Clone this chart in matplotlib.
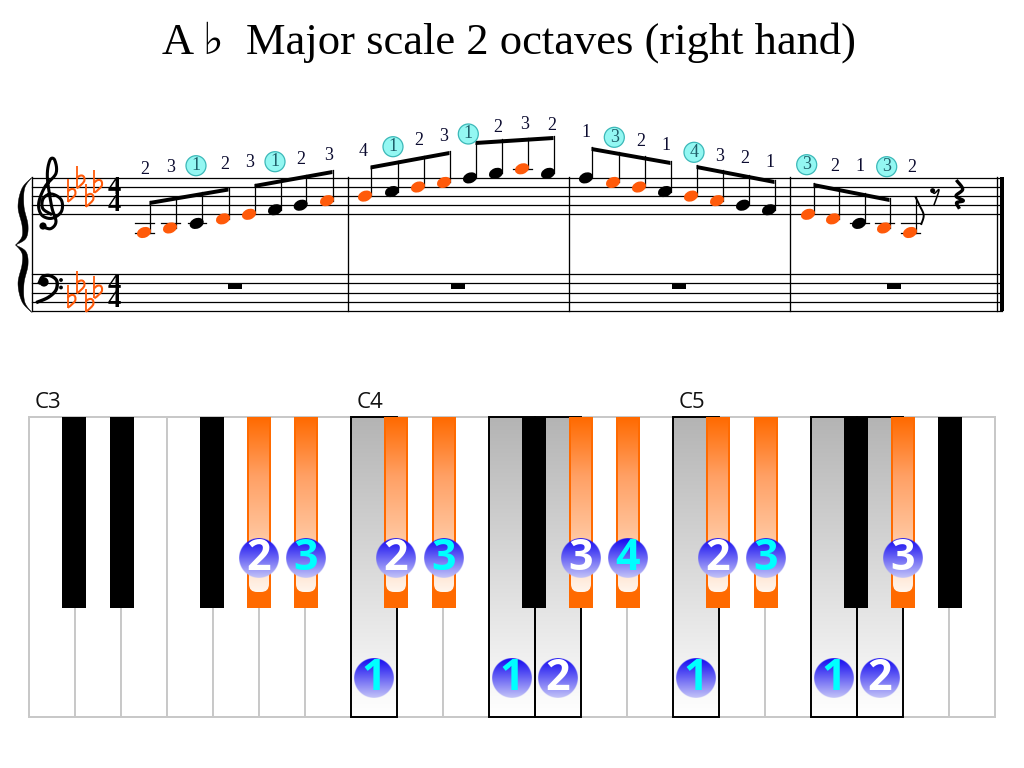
import numpy as np
import matplotlib
matplotlib.use('agg')
import matplotlib.pyplot as plt
from matplotlib.path import Path
from matplotlib.patches import PathPatch, Circle, Rectangle, Ellipse, Polygon, FancyBboxPatch

TITLE = 'A \u266d  Major scale 2 octaves (right hand)'
TIME_SIGNATURE = '4\n4'

# notes: staff step above the bottom treble line, x pixel, finger
NOTE_STEPS = [-4, -3, -2, -1, 0, 1, 2, 3,
              4, 5, 6, 7, 8, 9, 10, 9,
              8, 7, 6, 5, 4, 3, 2, 1,
              0, -1, -2, -3, -4]
NOTE_FLAT = [1, 1, 0, 1, 1, 0, 0, 1,
             1, 0, 1, 1, 0, 0, 1, 0,
             0, 1, 1, 0, 1, 1, 0, 0,
             1, 1, 0, 1, 1]
NOTE_X = [144, 170, 196.7, 223, 249, 275, 300.7, 327,
          365, 392, 418, 444, 470, 496, 522, 548,
          586, 613, 639, 665, 691, 717, 743, 769,
          808, 833, 859, 884, 910]
FINGERS = [2, 3, 1, 2, 3, 1, 2, 3,
           4, 1, 2, 3, 1, 2, 3, 2,
           1, 3, 2, 1, 4, 3, 2, 1,
           3, 2, 1, 3, 2]
FINGER_X = [145, 171, 196, 225, 249.5, 275, 301, 329,
            363.3, 393, 419, 443.7, 468.3, 497.3, 524.7, 551.3,
            586, 614.3, 640.7, 665.7, 694, 719.3, 745, 770,
            806.7, 834.3, 860, 886.7, 912]
FINGER_Y = [169, 167.7, 165.7, 164.3, 162.3, 161.7, 159.3, 156,
            151, 146.7, 140.3, 136.3, 134, 127.3, 124.3, 126,
            132.3, 137.3, 141.3, 146, 152.3, 156.3, 158.7, 162.3,
            164.7, 166.7, 166.7, 166.7, 167.7]
CIRCLED = [2, 5, 9, 12, 17, 20, 24, 27]

# first note, last note, beam top y at both ends
BEAMS = [(0, 3, 201, 187.5), (4, 7, 184, 170), (8, 11, 165.5, 151),
         (12, 15, 141, 136), (16, 19, 147, 161), (20, 23, 165, 180),
         (24, 27, 183, 198)]

BARLINES = [32, 347.5, 568.7, 789.5, 997]
TREBLE_FLATS = [(67.7, 201.7), (76.7, 188.3), (85.7, 206.7), (94.3, 192.7)]
BASS_FLATS = [(67.7, 307.7), (76.7, 293.3), (85.7, 311.7), (94.3, 298.3)]
WHOLE_RESTS = [235, 458, 679, 894]

# piano
WHITE_KEYS = [n + str(o) for o in (3, 4, 5) for n in 'CDEFGAB']
BLACK_KEYS = [n + str(o) for o in (3, 4, 5) for n in ('C#', 'D#', 'F#', 'G#', 'A#')]
BLACK_OFFSET = {'C#': 1, 'D#': 2, 'F#': 4, 'G#': 5, 'A#': 6}
BLACK_SHIFT = {'C#': -1, 'D#': 1, 'F#': -1, 'G#': 0, 'A#': 1}
ORANGE_KEYS = ['G#3', 'A#3', 'C#4', 'D#4', 'G#4', 'A#4', 'C#5', 'D#5', 'G#5']
PRESSED_WHITE = ['C4', 'F4', 'G4', 'C5', 'F5', 'G5']
OCTAVE_LABELS = ['C3', 'C4', 'C5']
KEY_FINGERS = [('G#3', 2, 'w'), ('A#3', 3, 'c'), ('C#4', 2, 'w'), ('D#4', 3, 'c'),
               ('G#4', 3, 'w'), ('A#4', 4, 'c'), ('C#5', 2, 'w'), ('D#5', 3, 'c'),
               ('G#5', 3, 'w'), ('C4', 1, 'c'), ('F4', 1, 'c'), ('G4', 2, 'w'),
               ('C5', 1, 'c'), ('F5', 1, 'c'), ('G5', 2, 'w')]

ORANGE = '#ff5a0a'
KEY_ORANGE = '#ff6a00'
SERIF = ['Liberation Serif', 'DejaVu Sans']
TREBLE_BOTTOM = 214.3
STEP = 4.55
BASS_TOP = 274.3
KEY_LEFT = 29
KEY_W = 46
KEY_TOP = 417
KEY_BOTTOM = 717
BLACK_BOTTOM = 608

fig = plt.figure(figsize=(10.24, 7.68), dpi=100)
ax = fig.add_axes([0, 0, 1, 1])
ax.axis('off')


def smooth(points, n=14):
    # catmull-rom through the given points
    pts = np.array(points, dtype=float)
    pts = np.vstack([pts[0], pts, pts[-1]])
    out = []
    for i in range(1, len(pts) - 2):
        p0, p1, p2, p3 = pts[i - 1], pts[i], pts[i + 1], pts[i + 2]
        for t in np.linspace(0, 1, n, endpoint=False):
            out.append(0.5 * (2 * p1 + (p2 - p0) * t + (2 * p0 - 5 * p1 + 4 * p2 - p3) * t ** 2
                              + (3 * p1 - p0 - 3 * p2 + p3) * t ** 3))
    out.append(pts[-2])
    return np.array(out)


def zoomed(points, x0=0, y0=110):
    # shapes were measured on a 3x crop
    return [(x0 + x / 3, y0 + y / 3) for x, y in points]


def draw_flat(x, bottom):
    ax.plot([x, x], [bottom - 22.7, bottom], color=ORANGE, lw=1.3, solid_capstyle='butt', zorder=4)
    bowl = Path([(x, bottom - 10), (x + 4, bottom - 15), (x + 9, bottom - 13), (x + 7.5, bottom - 7), (x + 5, bottom - 3), (x, bottom)],
                [Path.MOVETO, Path.CURVE4, Path.CURVE4, Path.CURVE4, Path.CURVE3, Path.CURVE3])
    ax.add_patch(PathPatch(bowl, fc='none', ec=ORANGE, lw=1.5, zorder=4))


def staff_y(step):
    return TREBLE_BOTTOM - step * STEP


def gradient(x0, x1, y0, y1, colors, clip=None, zorder=2):
    c = np.array([matplotlib.colors.to_rgb(k) for k in colors])
    pos = np.linspace(0, 1, len(colors))
    t = np.linspace(0, 1, 256)
    img = np.stack([np.interp(t, pos, c[:, i]) for i in range(3)], axis=1)[:, None, :]
    im = ax.imshow(img, extent=(x0, x1, y1, y0), aspect='auto', origin='upper',
                   interpolation='bilinear', zorder=zorder)
    if clip is not None:
        im.set_clip_path(clip)
    return im


def finger_ball(x, y, digit, color):
    size = 160
    yy, xx = np.mgrid[0:size, 0:size]
    r = np.hypot(xx - size / 2 + 0.5, yy - size / 2 + 0.5) / (size / 2)
    t = (yy / (size - 1))[..., None]
    top = np.array(matplotlib.colors.to_rgb('#1208f0'))
    bottom = np.array(matplotlib.colors.to_rgb('#c4c4f8'))
    rgb = top + (bottom - top) * t
    alpha = np.clip((1 - r) * size / 3, 0, 1)[..., None]
    ax.imshow(np.concatenate([rgb, alpha], axis=2), extent=(x - 20, x + 20, y + 20, y - 20),
              aspect='auto', interpolation='bilinear', zorder=6)
    ax.text(x, y + 0.5, str(digit), color=color, fontsize=31, fontweight='bold',
            family='Open Sans', ha='center', va='center', zorder=7)


# title
ax.text(509.5, 42, TITLE, fontsize=32, family=SERIF, ha='center', va='center', color='black')

# staves
for i in range(5):
    ax.plot([32, 1002], [TREBLE_BOTTOM - i * 2 * STEP] * 2, color='black', lw=0.9, zorder=1)
    ax.plot([32, 1002], [BASS_TOP + i * 2 * STEP + (0.2 if i > 2 else 0)] * 2, color='black', lw=0.9, zorder=1)
for x in BARLINES:
    ax.plot([x, x], [177.2, 310.8], color='black', lw=0.95, zorder=1)
ax.add_patch(Rectangle((1000, 177), 4.2, 134, fc='black', ec='none', zorder=2))

# brace
upper = smooth(zoomed([(95, 203), (66, 235), (54, 290), (66, 345), (66, 380), (47, 405)]))
inner = smooth(zoomed([(47, 405), (78, 385), (84, 345), (72, 290), (74, 235), (95, 203)]))
brace = np.vstack([upper, inner])
ax.add_patch(Polygon(brace, fc='black', ec='black', lw=0.3, zorder=3))
lower = brace.copy()
lower[:, 1] = 2 * (110 + 405 / 3) - lower[:, 1]
ax.add_patch(Polygon(lower, fc='black', ec='black', lw=0.3, zorder=3))

# treble clef
treble = smooth(zoomed([(152, 312), (128, 295), (130, 265), (155, 252), (184, 270), (184, 305), (155, 325),
                        (125, 315), (116, 280), (135, 230), (168, 190), (164, 150), (150, 150), (142, 200),
                        (155, 290), (168, 335), (152, 356), (128, 350)]))
ax.plot(treble[:, 0], treble[:, 1], color='black', lw=2.2, zorder=4)
ax.add_patch(Circle((43, 226), 3.6, fc='black', ec='none', zorder=4))

# bass clef
bass = smooth(zoomed([(118, 518), (128, 500), (150, 497), (170, 512), (168, 540), (145, 562), (113, 576)]))
ax.plot(bass[:, 0], bass[:, 1], color='black', lw=2.4, zorder=4)
ax.add_patch(Circle((44, 282), 4.6, fc='black', ec='none', zorder=4))
for dot_y in (280, 287.5):
    ax.add_patch(Circle((61, dot_y), 1.9, fc='black', ec='none', zorder=4))

# key signature and time signature
for x, b in TREBLE_FLATS + BASS_FLATS:
    draw_flat(x, b)
for y in (196, 292.5):
    ax.text(114.5, y, TIME_SIGNATURE, fontsize=19, fontweight='bold', family='Liberation Serif',
            ha='center', va='center', linespacing=0.62, color='black', zorder=4)

# whole rests
for x in WHOLE_RESTS:
    ax.add_patch(Rectangle((x - 7, 283.5), 14, 5.2, fc='black', ec='none', zorder=3))

# notes
for x, step, flat in zip(NOTE_X, NOTE_STEPS, NOTE_FLAT):
    y = staff_y(step)
    ledgers = list(range(-2, step - 1, -2)) + list(range(10, step + 1, 2))
    for s in ledgers:
        ax.plot([x - 9, x + 9.5], [staff_y(s)] * 2, color='black', lw=0.9, zorder=2)
    ax.add_patch(Ellipse((x, y), 14.5, 10.5, angle=-22, fc=ORANGE if flat else 'black', ec='none', zorder=5))

# beams and stems
for first, last, y0, y1 in BEAMS:
    sx0, sx1 = NOTE_X[first] + 5.5, NOTE_X[last] + 5.5
    ax.add_patch(Polygon([(sx0, y0), (sx1, y1), (sx1, y1 + 4), (sx0, y0 + 4)], fc='black', ec='none', zorder=4))
    for i in range(first, last + 1):
        sx = NOTE_X[i] + 5.5
        ax.plot([sx, sx], [staff_y(NOTE_STEPS[i]), np.interp(sx, [sx0, sx1], [y0, y1])],
                color='black', lw=0.9, zorder=4)

# last note with flag, then the rests
sx = NOTE_X[-1] + 5.7
ax.plot([sx, sx], [staff_y(NOTE_STEPS[-1]), 197], color='black', lw=0.9, zorder=4)
flag = smooth(zoomed([(707, 262), (718, 285), (731, 315), (724, 342)], x0=680))
ax.plot(flag[:, 0], flag[:, 1], color='black', lw=1.4, zorder=4)
eighth = smooth(zoomed([(755, 240), (763, 250), (777, 240), (762, 285)], x0=680))
ax.plot(eighth[:, 0], eighth[:, 1], color='black', lw=1.1, zorder=4)
ax.add_patch(Circle((680 + 758 / 3, 110 + 242 / 3), 2.5, fc='black', ec='none', zorder=4))
quarter = smooth(zoomed([(832, 214), (848, 238), (828, 258), (850, 272), (830, 278), (836, 292)], x0=680))
ax.plot(quarter[:, 0], quarter[:, 1], color='black', lw=2.4, zorder=4)

# fingering over the staff
for i, (x, y, f) in enumerate(zip(FINGER_X, FINGER_Y, FINGERS)):
    if i in CIRCLED:
        ax.add_patch(Circle((x, y), 10, fc='#93f7f2', ec='#3bb8b8', lw=0.9, zorder=5))
    ax.text(x, y, str(f), fontsize=13, family='Liberation Serif', ha='center', va='center',
            color='#0c0c30' if i not in CIRCLED else '#1f5f6a', zorder=6)

# white keys
for i, name in enumerate(WHITE_KEYS):
    x = KEY_LEFT + i * KEY_W
    if name in PRESSED_WHITE:
        continue
    ax.add_patch(Rectangle((x, KEY_TOP), KEY_W, KEY_BOTTOM - KEY_TOP, fc='white', ec='#c8c8c8', lw=1.4, zorder=1))
ax.add_patch(Rectangle((KEY_LEFT, KEY_TOP), KEY_W * len(WHITE_KEYS), KEY_BOTTOM - KEY_TOP,
                       fc='none', ec='#c8c8c8', lw=1.4, zorder=1.5))
for name in PRESSED_WHITE:
    x = KEY_LEFT + WHITE_KEYS.index(name) * KEY_W
    gradient(x, x + KEY_W, KEY_TOP, KEY_BOTTOM, ['#b4b4b4', '#ffffff'], zorder=2)
    ax.add_patch(Rectangle((x, KEY_TOP), KEY_W, KEY_BOTTOM - KEY_TOP, fc='none', ec='black', lw=1.4, zorder=2.5))
for label in OCTAVE_LABELS:
    x = KEY_LEFT + WHITE_KEYS.index(label) * KEY_W
    ax.text(x + 19, 402, label, fontsize=16, family='Open Sans', ha='center', va='center', color='#111111')

# black keys
for name in BLACK_KEYS:
    pitch, octave = name[:2], int(name[2])
    center = KEY_LEFT + ((octave - 3) * 7 + BLACK_OFFSET[pitch]) * KEY_W + BLACK_SHIFT[pitch]
    if name in ORANGE_KEYS:
        ax.add_patch(Rectangle((center - 12, KEY_TOP), 24, BLACK_BOTTOM - KEY_TOP, fc=KEY_ORANGE, ec='none', zorder=3))
        inset = FancyBboxPatch((center - 10, KEY_TOP - 20), 20, 592 - KEY_TOP + 20,
                               boxstyle='round,pad=0,rounding_size=8', fc='none', ec='none',
                               transform=ax.transData, zorder=3.1)
        ax.add_patch(inset)
        gradient(center - 10.5, center + 10.5, KEY_TOP, 593, [KEY_ORANGE, '#ffa064', '#ffc49c', '#fff6ee'],
                 clip=inset, zorder=3.2)
    else:
        ax.add_patch(Rectangle((center - 12, KEY_TOP), 24, BLACK_BOTTOM - KEY_TOP, fc='black', ec='none', zorder=3))

for name, digit, col in KEY_FINGERS:
    color = '#ffffff' if col == 'w' else '#00ffff'
    if name in WHITE_KEYS:
        x = KEY_LEFT + WHITE_KEYS.index(name) * KEY_W + KEY_W / 2
        finger_ball(x, 678, digit, color)
    else:
        pitch, octave = name[:2], int(name[2])
        x = KEY_LEFT + ((octave - 3) * 7 + BLACK_OFFSET[pitch]) * KEY_W + BLACK_SHIFT[pitch]
        finger_ball(x, 558, digit, color)

ax.set_xlim(0, 1024)
ax.set_ylim(768, 0)
fig.savefig('out.png', dpi=100)
